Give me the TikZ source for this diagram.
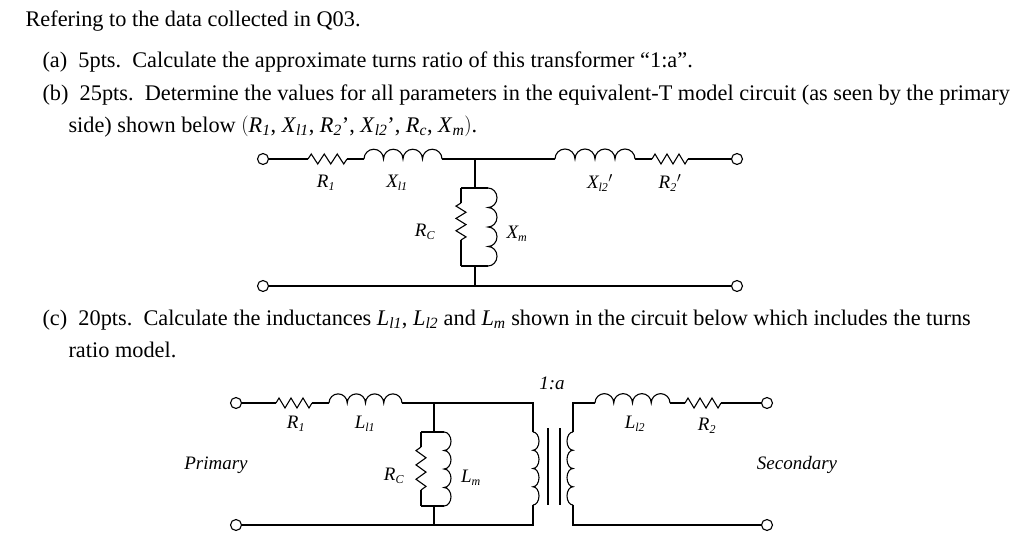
\documentclass[tikz,border=0pt]{standalone}
\usepackage{fontspec}
\setmainfont{Liberation Serif}
\newcommand\hres[3]{% x1 x2 y
 \pgfmathsetmacro\w{#2-#1}
 \draw (#1,-#3) -- ++(\w/12,5) -- ++(\w/6,-10) -- ++(\w/6,10) -- ++(\w/6,-10) -- ++(\w/6,10) -- ++(\w/6,-10) -- ++(\w/12,5);}
\newcommand\vres[3]{% x y1 y2
 \pgfmathsetmacro\w{#3-#2}
 \draw (#1,-#2) -- ++(-5,-\w/12) -- ++(10,-\w/6) -- ++(-10,-\w/6) -- ++(10,-\w/6) -- ++(-10,-\w/6) -- ++(10,-\w/6) -- ++(-5,-\w/12);}
\newcommand\hind[3]{% x1 x2 y, humps up
 \pgfmathsetmacro\r{(#2-#1)/8}
 \draw (#1,-#3) foreach \i in {1,...,4}{ arc[start angle=180,end angle=0,radius=\r] };}
\newcommand\vind[5]{% x y1 y2 dir(1 right,-1 left) xradius
 \pgfmathsetmacro\r{(#3-#2)/8}
 \ifnum#4=1
 \draw (#1,-#2) foreach \i in {1,...,4}{ arc[start angle=90,end angle=-90,x radius=#5,y radius=\r] };
 \else
 \draw (#1,-#2) foreach \i in {1,...,4}{ arc[start angle=90,end angle=270,x radius=#5,y radius=\r] };
 \fi}
\newcommand\sub[2]{\textit{#1}\textsubscript{\itshape #2}}
\begin{document}
\begin{tikzpicture}[x=1pt,y=1pt,line width=1.1pt,
  term/.style={circle,draw,fill=white,inner sep=0pt,minimum size=11pt},
  txt/.style={anchor=base west,inner sep=0pt,font=\fontsize{22.3}{22}\selectfont},
  lab/.style={inner sep=0pt,font=\fontsize{19}{19}\selectfont\itshape}]
\useasboundingbox (0,0) rectangle (1031,-543);
\node[txt] (t0) at (25,-27) {Refering to the data collected in Q03.};
\node[txt] (ta) at (42,-67) {(a)\ \ 5pts.\ \ Calculate the approximate turns ratio of this transformer “1:a”.};
\node[txt] (tb) at (42,-100) {(b)\ \ 25pts.\ \ Determine the values for all parameters in the equivalent-T model circuit (as seen by the primary};
\node[txt] (tb2) at (68,-132) {side) shown below $\Bigl($\sub{R}{1}, \sub{X}{l1}, \sub{R}{2}', \sub{X}{l2}', \sub{R}{c}, \sub{X}{m}$\Bigr)$.};
\node[txt] (tc) at (42,-325) {(c)\ \ 20pts.\ \ Calculate the inductances \sub{L}{l1}, \sub{L}{l2} and \sub{L}{m} shown in the circuit below which includes the turns};
\node[txt] (tc2) at (68,-357) {ratio model.};
% circuit 1
\draw (263,-159) -- (308,-159); \hres{308}{347}{159}
\draw (347,-159) -- (364,-159); \hind{364}{442}{159}
\draw (442,-159) -- (555,-159); \hind{555}{635}{159}
\draw (635,-159) -- (652,-159); \hres{652}{688}{159}
\draw (688,-159) -- (737,-159);
\draw (263,-286) -- (737,-286);
\draw (475,-159) -- (475,-188) (461,-188) -- (488,-188) (461,-266) -- (488,-266) (475,-266) -- (475,-286);
\draw (461,-188) -- (461,-203); \vres{461}{203}{240} \draw (461,-240) -- (461,-266);
\vind{488}{188}{266}{1}{9}
\foreach \p/\n in {263/a1,737/a2}{\node[term] (\n t) at (\p,-159) {}; \node[term] (\n b) at (\p,-286) {};}
\node[lab] (l1) at (326,-183) {R\textsubscript{\fontsize{12}{12}\selectfont\itshape 1}};
\node[lab] (l2) at (397,-183) {X\textsubscript{\fontsize{12}{12}\selectfont\itshape l1}};
\node[lab] (l3) at (425,-232) {R\textsubscript{\fontsize{12}{12}\selectfont\itshape C}};
\node[lab] (l4) at (517,-234) {X\textsubscript{\fontsize{12}{12}\selectfont\itshape m}};
\node[lab] (l5) at (600,-183) {X\textsubscript{\fontsize{12}{12}\selectfont\itshape l2}$'$};
\node[lab] (l6) at (670,-183) {R\textsubscript{\fontsize{12}{12}\selectfont\itshape 2}$'$};
% circuit 2
\draw (236,-403) -- (276,-403); \hres{276}{312}{403}
\draw (312,-403) -- (329,-403); \hind{329}{402}{403}
\draw (402,-403) -- (533,-403) -- (533,-432); \vind{533}{432}{505}{1}{6} \draw (533,-505) -- (533,-525) -- (236,-525);
\draw (434,-403) -- (434,-432) (421,-432) -- (444,-432) (421,-506) -- (444,-506) (434,-506) -- (434,-525);
\draw (421,-432) -- (421,-447); \vres{421}{447}{490} \draw (421,-490) -- (421,-506);
\vind{444}{432}{506}{1}{7}
\draw (548,-428) -- (548,-505) (560,-428) -- (560,-505);
\draw (767,-525) -- (573,-525) -- (573,-505); \vind{573}{432}{505}{-1}{6}
\draw (573,-432) -- (573,-403) -- (595,-403); \hind{595}{670}{403}
\draw (670,-403) -- (685,-403); \hres{685}{721}{403} \draw (721,-403) -- (767,-403);
\foreach \p/\n in {236/b1,767/b2}{\node[term] (\n t) at (\p,-403) {}; \node[term] (\n b) at (\p,-525) {};}
\node[lab] (m0) at (552,-383) {1:a};
\node[lab] (m1) at (296,-424) {R\textsubscript{\fontsize{12}{12}\selectfont\itshape 1}};
\node[lab] (m2) at (365,-424) {L\textsubscript{\fontsize{12}{12}\selectfont\itshape l1}};
\node[lab] (m3) at (394,-476) {R\textsubscript{\fontsize{12}{12}\selectfont\itshape C}};
\node[lab] (m4) at (471,-478) {L\textsubscript{\fontsize{12}{12}\selectfont\itshape m}};
\node[lab] (m5) at (635,-424) {L\textsubscript{\fontsize{12}{12}\selectfont\itshape l2}};
\node[lab] (m6) at (707,-426) {R\textsubscript{\fontsize{12}{12}\selectfont\itshape 2}};
\node[lab] (m7) at (216,-465) {Primary};
\node[lab] (m8) at (797,-465) {Secondary};
\end{tikzpicture}
\end{document}
